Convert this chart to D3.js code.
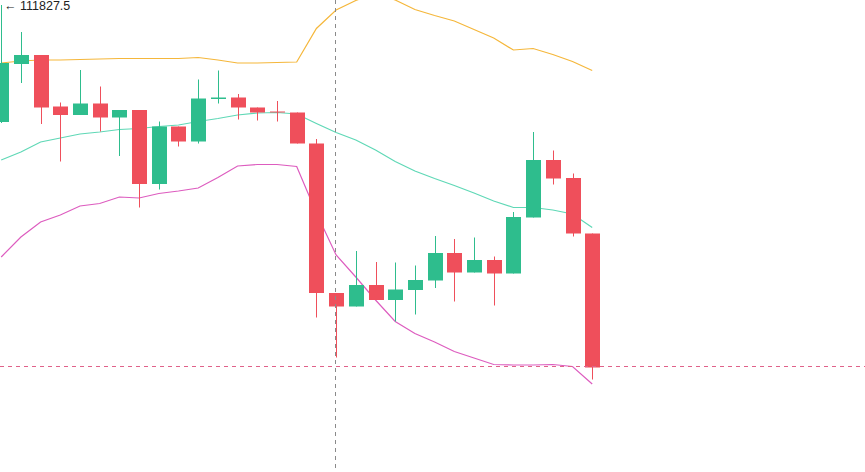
<!DOCTYPE html>
<html>
<head>
<meta charset="utf-8">
<script src="https://cdn.jsdelivr.net/npm/d3@7"></script>
<style>
  html, body { margin: 0; padding: 0; background: #ffffff; }
  svg { display: block; }
</style>
</head>
<body>
<svg id="chart" width="865" height="472"></svg>
<script>
const categories = ["0","1","2","3","4","5","6","7","8","9","10","11","12","13","14","15",
  "16","17","18","19","20","21","22","23","24","25","26","27","28","29","30"];

const openValues  = [109487.5,110647.5,110827.5,109797.5,109627.5,109857.5,109577.5,109727.5,108247.5,109397.5,
  109097.5,109947.5,109977.5,109777.5,109697.5,109677.5,109057.5,106067.5,105797.5,106227.5,
  105927.5,106127.5,106317.5,106867.5,106477.5,106727.5,106457.5,107577.5,108727.5,108367.5,107257.5];
const closeValues = [110667.5,110827.5,109777.5,109627.5,109857.5,109577.5,109727.5,108247.5,109397.5,109097.5,
  109957.5,109977.5,109777.5,109677.5,109677.5,109057.5,106067.5,105797.5,106227.5,105927.5,
  106137.5,106327.5,106867.5,106477.5,106727.5,106457.5,107587.5,108727.5,108357.5,107257.5,104577.5];
const highValues  = [111827.5,111287.5,110827.5,109877.5,110527.5,110197.5,109727.5,109727.5,109497.5,109397.5,
  110337.5,110517.5,110047.5,109777.5,109907.5,109677.5,109147.5,106067.5,106907.5,106687.5,
  106677.5,106617.5,107207.5,107147.5,107177.5,106797.5,107687.5,109287.5,108917.5,108457.5,107257.5];
const lowValues   = [109467.5,110267.5,109447.5,108697.5,109627.5,109297.5,108807.5,107777.5,108137.5,108997.5,
  109057.5,109857.5,109537.5,109517.5,109497.5,109057.5,105577.5,104777.5,105797.5,105927.5,
  105497.5,105637.5,106167.5,105897.5,106477.5,105817.5,106457.5,107577.5,108237.5,107197.5,104337.5];

const upperBand  = [110667.5,110707.5,110727.5,110727.5,110737.5,110747.5,110757.5,110757.5,110757.5,110757.5,
  110777.5,110727.5,110667.5,110667.5,110677.5,110687.5,111357.5,111727.5,111917.5,112067.5,
  111927.5,111737.5,111617.5,111507.5,111337.5,111167.5,110927.5,110957.5,110837.5,110697.5,110517.5];
const middleBand = [108727.5,108887.5,109087.5,109167.5,109247.5,109287.5,109337.5,109357.5,109397.5,109427.5,
  109497.5,109557.5,109627.5,109667.5,109677.5,109647.5,109457.5,109277.5,109127.5,108927.5,
  108697.5,108507.5,108357.5,108217.5,108067.5,107907.5,107777.5,107777.5,107727.5,107647.5,107377.5];
const lowerBand  = [106787.5,107187.5,107487.5,107627.5,107807.5,107857.5,107987.5,107967.5,108057.5,108107.5,
  108167.5,108377.5,108607.5,108637.5,108637.5,108597.5,107667.5,106827.5,106387.5,105927.5,
  105497.5,105257.5,105087.5,104897.5,104767.5,104637.5,104627.5,104627.5,104637.5,104597.5,104247.5];

const maxLabel = "← 111827.5";
const crosshairIndex = 17;
const crosshairPrice = 104577.5;

const W = 865, H = 472;
const svg = d3.select("#chart");

const x = d3.scalePoint().domain(categories).range([1.2, 592.2]);
const y = d3.scaleLinear().domain([102487.5, 111927.5]).range([H, 0]);

const upColor = "#2ebd8d", downColor = "#ef4f5b";
const candleW = 15;

const g = svg.append("g");

// Bands
const line = d3.line().x((d, i) => x(categories[i])).y(d => y(d));
g.append("path").datum(upperBand).attr("d", line)
  .attr("fill", "none").attr("stroke", "#f5b73b").attr("stroke-width", 1.2);
g.append("path").datum(middleBand).attr("d", line)
  .attr("fill", "none").attr("stroke", "#5fd8b6").attr("stroke-width", 1.2);
g.append("path").datum(lowerBand).attr("d", line)
  .attr("fill", "none").attr("stroke", "#dd5cbf").attr("stroke-width", 1.2);

// Candles
const candles = categories.map((c, i) => ({
  c, o: openValues[i], cl: closeValues[i], h: highValues[i], l: lowValues[i]
}));
const cg = g.selectAll("g.candle").data(candles).enter().append("g").attr("class", "candle");
cg.append("line")
  .attr("x1", d => Math.round(x(d.c)) + 0.5).attr("x2", d => Math.round(x(d.c)) + 0.5)
  .attr("y1", d => y(d.h)).attr("y2", d => y(d.l))
  .attr("stroke", d => d.cl >= d.o ? upColor : downColor).attr("stroke-width", 1);
cg.append("rect")
  .attr("x", d => Math.round(x(d.c)) + 0.5 - candleW / 2)
  .attr("width", candleW)
  .attr("y", d => y(Math.max(d.o, d.cl)))
  .attr("height", d => Math.max(1, y(Math.min(d.o, d.cl)) - y(Math.max(d.o, d.cl))))
  .attr("fill", d => d.cl >= d.o ? upColor : downColor);

// Crosshair
const cx = Math.round(x(categories[crosshairIndex])) - 0.5;
g.append("line").attr("x1", cx).attr("x2", cx).attr("y1", 0).attr("y2", H)
  .attr("stroke", "#8a8a8a").attr("stroke-width", 1).attr("stroke-dasharray", "4,4");
const cy = Math.floor(y(crosshairPrice)) - 0.5;
g.append("line").attr("x1", 0).attr("x2", W).attr("y1", cy).attr("y2", cy)
  .attr("stroke", "#e0628a").attr("stroke-width", 1).attr("stroke-dasharray", "4,4");

// Max label
svg.append("text")
  .attr("x", 4).attr("y", y(highValues[0]) + 5)
  .attr("font-family", "'Liberation Sans', Arial, sans-serif")
  .attr("font-size", 12.5).attr("fill", "#222")
  .text(maxLabel);
</script>
</body>
</html>
